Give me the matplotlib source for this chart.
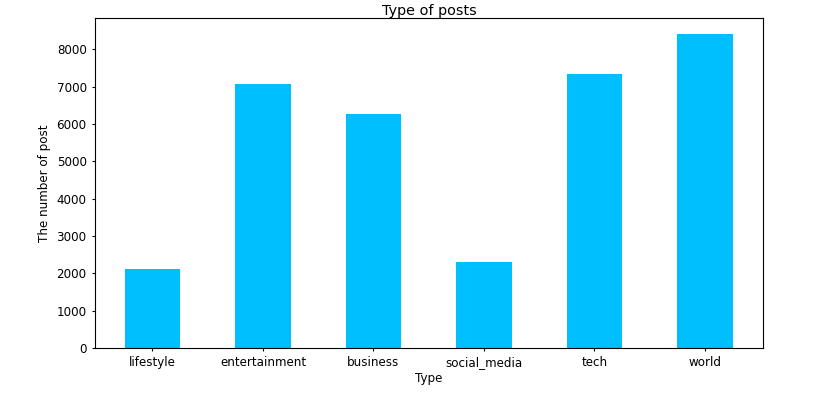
import matplotlib
matplotlib.use("Agg")
from matplotlib import pyplot as plt
import numpy as np

types = ['lifestyle', 'entertainment', 'business', 'social_media', 'tech', 'world']
counts = [2107, 7072, 6268, 2303, 7349, 8420]

fs = 8.6
fig = plt.figure(figsize=(8.27, 3.95), dpi=100)
ax = fig.add_axes([95/827, 1-348/395, (763-95)/827, (348-18)/395])

x = np.arange(len(types))
ax.bar(x, counts, width=0.5, color='deepskyblue')
ax.set_xticks(x)
ax.set_xticklabels(types, fontsize=fs)
ax.set_xlim(-0.52, len(types)-0.475)
ax.set_ylim(0, 8842)
ax.tick_params(axis='y', labelsize=fs)
ax.tick_params(length=2.5)
ax.set_xlabel('Type', fontsize=fs, labelpad=2)
ax.set_ylabel('The number of post', fontsize=fs)
ax.set_title('Type of posts', fontsize=10.4, pad=2)

fig.savefig('out.png', dpi=100)
